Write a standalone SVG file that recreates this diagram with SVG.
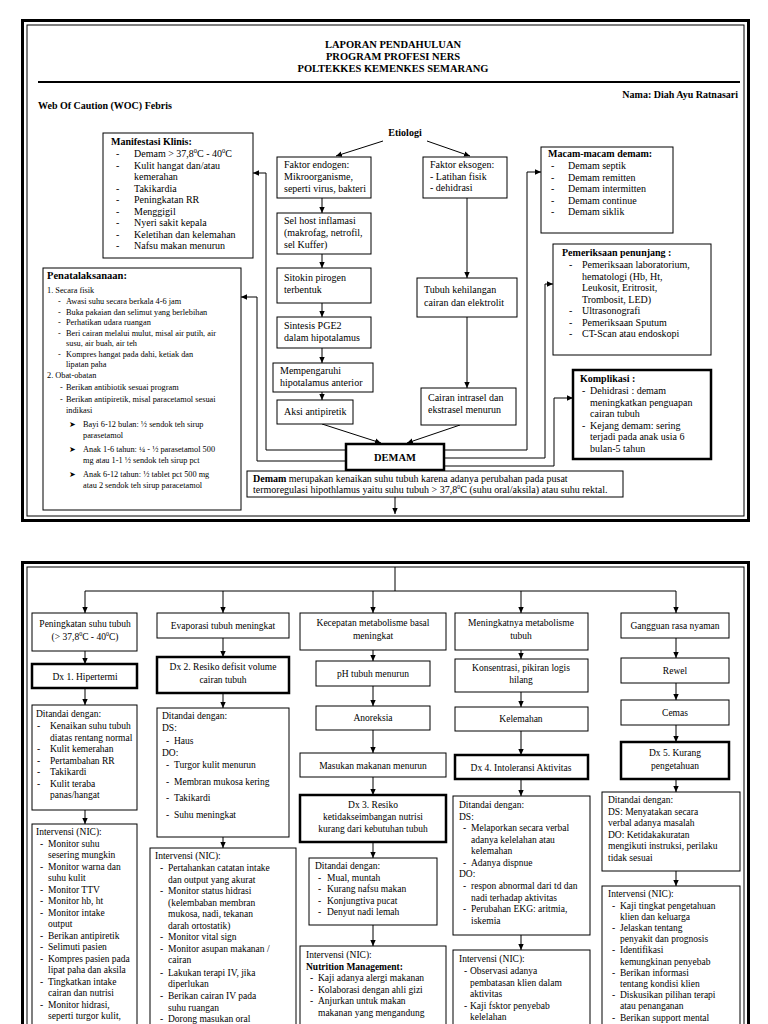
<svg xmlns="http://www.w3.org/2000/svg" width="768" height="1024" viewBox="0 0 768 1024">
<defs>
<marker id="ar" viewBox="0 0 10 10" refX="10" refY="5" markerWidth="6" markerHeight="6" orient="auto" markerUnits="userSpaceOnUse"><path d="M0,0.5 L10,5 L0,9.5 z" fill="#000"/></marker>
<style>
text{font-family:"Liberation Serif","Times New Roman",serif;font-size:10px;fill:#000}
.b{font-weight:bold}
.c{text-anchor:middle}
.e{text-anchor:end}
.s{font-size:8.3px}
.m{font-size:9.5px}
.h{font-size:10.5px;font-weight:bold}
.box{fill:#fff;stroke:#000;stroke-width:1}
.tk{stroke-width:2.5}
.fr{fill:none;stroke:#000;stroke-width:3}
.fi{fill:none;stroke:#000;stroke-width:1}
.cn{fill:none;stroke:#000;stroke-width:1}
.ar{marker-end:url(#ar)}
.sym{font-family:"DejaVu Sans",sans-serif;font-size:8px}
</style>
</defs>
<rect width="768" height="1024" fill="#fff"/>

<!-- Frames -->
<rect class="fr" x="22.5" y="20.5" width="726" height="500"/>
<rect class="fi" x="27" y="25" width="717" height="491"/>
<rect class="fr" x="22.5" y="562.5" width="726" height="480"/>
<rect class="fi" x="27" y="567" width="717" height="470"/>

<!-- Header -->
<g id="header">
<text class="h c" x="393" y="48">LAPORAN PENDAHULUAN</text>
<text class="h c" x="393" y="60">PROGRAM PROFESI NERS</text>
<text class="h c" x="393" y="72">POLTEKKES KEMENKES SEMARANG</text>
<line x1="38" y1="82" x2="740" y2="82" stroke="#000" stroke-width="2"/>
<text class="b e" x="738" y="98">Nama: Diah Ayu Ratnasari</text>
<text class="b" x="38" y="109">Web Of Caution (WOC) Febris</text>
</g>

<!-- Connectors -->
<g id="connectors">
<line class="cn ar" x1="383" y1="141" x2="336" y2="156"/>
<line class="cn ar" x1="427" y1="141" x2="470" y2="156"/>
<line class="cn ar" x1="322" y1="198" x2="322" y2="213"/>
<line class="cn ar" x1="322" y1="254" x2="322" y2="268"/>
<line class="cn ar" x1="322" y1="303" x2="322" y2="317"/>
<line class="cn ar" x1="322" y1="348" x2="322" y2="363"/>
<line class="cn ar" x1="322" y1="392" x2="322" y2="400"/>
<line class="cn ar" x1="467" y1="198" x2="467" y2="278"/>
<line class="cn ar" x1="467" y1="317" x2="467" y2="388"/>
<line class="cn ar" x1="322" y1="424" x2="381" y2="443"/>
<line class="cn ar" x1="460" y1="425" x2="407" y2="443"/>
<polyline class="cn ar" points="346,450 266,450 266,173 253,173"/>
<polyline class="cn ar" points="346,461 257,461 257,297 241,297"/>
<polyline class="cn ar" points="444,450 527,450 527,172 541,172"/>
<polyline class="cn ar" points="444,458 545,458 545,284 553,284"/>
<polyline class="cn ar" points="444,466 554,466 554,398 573,398"/>
<line class="cn ar" x1="395" y1="497" x2="395" y2="514"/>
<!-- bottom distribution -->
<line class="cn" x1="395" y1="567" x2="395" y2="591"/>
<line class="cn" x1="85" y1="591" x2="676" y2="591"/>
<line class="cn ar" x1="85" y1="591" x2="85" y2="613"/>
<line class="cn ar" x1="223" y1="591" x2="223" y2="613"/>
<line class="cn ar" x1="373" y1="591" x2="373" y2="613"/>
<line class="cn ar" x1="521" y1="591" x2="521" y2="613"/>
<line class="cn ar" x1="676" y1="591" x2="676" y2="613"/>
<!-- col1 -->
<line class="cn ar" x1="85" y1="651" x2="85" y2="664"/>
<line class="cn ar" x1="85" y1="688" x2="85" y2="705"/>
<line class="cn ar" x1="85" y1="810" x2="85" y2="824"/>
<!-- col2 -->
<line class="cn ar" x1="223" y1="638" x2="223" y2="657"/>
<line class="cn ar" x1="223" y1="693" x2="223" y2="708"/>
<line class="cn ar" x1="223" y1="837" x2="223" y2="848"/>
<!-- col3 -->
<line class="cn ar" x1="373" y1="650" x2="373" y2="661"/>
<line class="cn ar" x1="373" y1="686" x2="373" y2="706"/>
<line class="cn ar" x1="373" y1="730" x2="373" y2="753"/>
<line class="cn ar" x1="373" y1="777" x2="373" y2="795"/>
<line class="cn ar" x1="373" y1="842" x2="373" y2="858"/>
<line class="cn ar" x1="373" y1="925" x2="373" y2="946"/>
<!-- col4 -->
<line class="cn ar" x1="521" y1="650" x2="521" y2="659"/>
<line class="cn ar" x1="521" y1="692" x2="521" y2="707"/>
<line class="cn ar" x1="521" y1="731" x2="521" y2="755"/>
<line class="cn ar" x1="521" y1="779" x2="521" y2="796"/>
<line class="cn ar" x1="521" y1="935" x2="521" y2="950"/>
<!-- col5 -->
<line class="cn ar" x1="676" y1="638" x2="676" y2="658"/>
<line class="cn ar" x1="676" y1="683" x2="676" y2="700"/>
<line class="cn ar" x1="676" y1="725" x2="676" y2="742"/>
<line class="cn ar" x1="676" y1="779" x2="676" y2="792"/>
<line class="cn ar" x1="676" y1="871" x2="676" y2="886"/>
</g>

<!-- TOP PANEL NODES -->
<g id="etiologi"><text class="b c" x="405" y="136">Etiologi</text></g>

<g id="manifestasi">
<rect class="box" x="103" y="133" width="150" height="125" stroke-width="2"/>
<text class="b" x="111" y="145">Manifestasi Klinis:</text>
<text x="116" y="157">-</text><text x="134" y="157">Demam &gt; 37,8<tspan dy="-4" font-size="6.5">0</tspan><tspan dy="4">C - 40</tspan><tspan dy="-4" font-size="6.5">0</tspan><tspan dy="4">C</tspan></text>
<text x="116" y="168.5">-</text><text x="134" y="168.5">Kulit hangat dan/atau</text>
<text x="134" y="180">kemerahan</text>
<text x="116" y="191.5">-</text><text x="134" y="191.5">Takikardia</text>
<text x="116" y="203">-</text><text x="134" y="203">Peningkatan RR</text>
<text x="116" y="214.5">-</text><text x="134" y="214.5">Menggigil</text>
<text x="116" y="226">-</text><text x="134" y="226">Nyeri sakit kepala</text>
<text x="116" y="237.5">-</text><text x="134" y="237.5">Keletihan dan kelemahan</text>
<text x="116" y="249">-</text><text x="134" y="249">Nafsu makan menurun</text>
</g>

<g id="endogen">
<rect class="box" x="277" y="157" width="94" height="41"/>
<text x="284" y="168">Faktor endogen:</text>
<text x="284" y="180">Mikroorganisme,</text>
<text x="284" y="192">seperti virus, bakteri</text>
</g>
<g id="eksogen">
<rect class="box" x="423" y="157" width="84" height="41"/>
<text x="430" y="168">Faktor eksogen:</text>
<text x="430" y="179.5">- Latihan fisik</text>
<text x="430" y="191">- dehidrasi</text>
</g>
<g id="selhost">
<rect class="box" x="277" y="213" width="94" height="41"/>
<text x="284" y="224">Sel host inflamasi</text>
<text x="284" y="236">(makrofag, netrofil,</text>
<text x="284" y="248">sel Kuffer)</text>
</g>
<g id="sitokin">
<rect class="box" x="277" y="268" width="94" height="35"/>
<text x="284" y="281">Sitokin pirogen</text>
<text x="284" y="293">terbentuk</text>
</g>
<g id="sintesis">
<rect class="box" x="277" y="317" width="94" height="31"/>
<text x="284" y="329">Sintesis PGE2</text>
<text x="284" y="341">dalam hipotalamus</text>
</g>
<g id="mempengaruhi">
<rect class="box" x="273" y="363" width="100" height="29"/>
<text x="280" y="374">Mempengaruhi</text>
<text x="280" y="386">hipotalamus anterior</text>
</g>
<g id="aksi">
<rect class="box" x="277" y="400" width="76" height="24"/>
<text x="284" y="415">Aksi antipiretik</text>
</g>
<g id="kehilangan">
<rect class="box" x="417" y="278" width="100" height="39"/>
<text x="424" y="293">Tubuh kehilangan</text>
<text x="424" y="306">cairan dan  elektrolit</text>
</g>
<g id="intrasel">
<rect class="box" x="421" y="388" width="95" height="37"/>
<text x="428" y="401">Cairan intrasel dan</text>
<text x="428" y="413">ekstrasel menurun</text>
</g>
<g id="demam">
<rect class="box tk" x="346" y="444" width="98" height="26"/>
<text class="h c" x="395" y="461">DEMAM</text>
</g>
<g id="definisi">
<rect class="box" x="247" y="471" width="376" height="26"/>
<text x="253" y="482" font-size="9.3"><tspan font-weight="bold">Demam</tspan> merupakan kenaikan suhu tubuh karena adanya perubahan pada pusat</text>
<text x="253" y="493" font-size="9.3">termoregulasi hipothlamus yaitu suhu tubuh &gt; 37,8<tspan dy="-4" font-size="6">0</tspan><tspan dy="4">C (suhu oral/aksila) atau suhu rektal.</tspan></text>
</g>

<g id="macam">
<rect class="box" x="541" y="147" width="132" height="86" stroke-width="2"/>
<text class="b" x="548" y="157">Macam-macam demam:</text>
<text x="551" y="169">-</text><text x="568" y="169">Demam septik</text>
<text x="551" y="180.5">-</text><text x="568" y="180.5">Demam remitten</text>
<text x="551" y="192">-</text><text x="568" y="192">Demam intermitten</text>
<text x="551" y="203.5">-</text><text x="568" y="203.5">Demam continue</text>
<text x="551" y="215">-</text><text x="568" y="215">Demam siklik</text>
</g>
<g id="pemeriksaan">
<rect class="box" x="553" y="244" width="158" height="111" stroke-width="2"/>
<text class="b" x="562" y="256">Pemeriksaan penunjang :</text>
<text x="569" y="268">-</text><text x="582" y="268">Pemeriksaan laboratorium,</text>
<text x="582" y="279.5">hematologi (Hb, Ht,</text>
<text x="582" y="291">Leukosit, Eritrosit,</text>
<text x="582" y="302.5">Trombosit, LED)</text>
<text x="569" y="314">-</text><text x="582" y="314">Ultrasonografi</text>
<text x="569" y="325.5">-</text><text x="582" y="325.5">Pemeriksaan Sputum</text>
<text x="569" y="337">-</text><text x="582" y="337">CT-Scan atau endoskopi</text>
</g>
<g id="komplikasi">
<rect class="box tk" x="573" y="370" width="138" height="89"/>
<text class="b" x="580" y="382">Komplikasi :</text>
<text x="582" y="394">-</text><text x="590" y="394">Dehidrasi : demam</text>
<text x="590" y="405.5">meningkatkan penguapan</text>
<text x="590" y="417">cairan tubuh</text>
<text x="582" y="428.5">-</text><text x="590" y="428.5">Kejang demam: sering</text>
<text x="590" y="440">terjadi pada anak usia 6</text>
<text x="590" y="451.5">bulan-5 tahun</text>
</g>
<g id="penatalaksanaan">
<rect class="box" x="43" y="268" width="198" height="242" stroke-width="2"/>
<text class="h" x="47" y="279">Penatalaksanaan:</text>
<text class="s" x="47" y="293">1. Secara fisik</text>
<text class="s" x="58" y="304">-</text><text class="s" x="66" y="304">Awasi suhu secara berkala 4-6 jam</text>
<text class="s" x="58" y="314.5">-</text><text class="s" x="66" y="314.5">Buka pakaian dan selimut yang berlebihan</text>
<text class="s" x="58" y="325">-</text><text class="s" x="66" y="325">Perhatikan udara ruangan</text>
<text class="s" x="58" y="335.5">-</text><text class="s" x="66" y="335.5">Beri cairan melalui mulut, misal air putih, air</text>
<text class="s" x="66" y="346">susu, air buah, air teh</text>
<text class="s" x="58" y="356.5">-</text><text class="s" x="66" y="356.5">Kompres hangat pada dahi, ketiak dan</text>
<text class="s" x="66" y="367">lipatan paha</text>
<text class="s" x="47" y="378">2. Obat-obatan</text>
<text class="s" x="60" y="390">-</text><text class="s" x="66" y="390">Berikan antibiotik sesuai program</text>
<text class="s" x="60" y="402">-</text><text class="s" x="66" y="402">Berikan antipiretik, misal paracetamol sesuai</text>
<text class="s" x="66" y="413">indikasi</text>
<text class="sym" x="69" y="427">➤</text><text class="s" x="83" y="427">Bayi 6-12 bulan: ½ sendok teh sirup</text>
<text class="s" x="83" y="438">parasetamol</text>
<text class="sym" x="69" y="452">➤</text><text class="s" x="83" y="452">Anak 1-6 tahun: ¼ - ½ parasetamol 500</text>
<text class="s" x="83" y="463">mg atau 1-1 ½ sendok teh sirup pct</text>
<text class="sym" x="69" y="477">➤</text><text class="s" x="83" y="477">Anak 6-12 tahun: ½ tablet pct 500 mg</text>
<text class="s" x="83" y="488">atau 2 sendok teh sirup paracetamol</text>
</g>

<!-- BOTTOM PANEL NODES -->
<g id="peningkatan">
<rect class="box" x="32" y="613" width="105" height="38"/>
<text class="m c" x="85" y="627">Peningkatan suhu tubuh</text>
<text class="m c" x="85" y="640">(&gt; 37,8<tspan dy="-4" font-size="6">0</tspan><tspan dy="4">C - 40</tspan><tspan dy="-4" font-size="6">0</tspan><tspan dy="4">C)</tspan></text>
</g>
<g id="dx1">
<rect class="box tk" x="32" y="664" width="105" height="24"/>
<text class="m c" x="85" y="680">Dx 1. Hipertermi</text>
</g>
<g id="ditandai1">
<rect class="box" x="32" y="705" width="105" height="105"/>
<text class="m" x="36" y="717">Ditandai dengan:</text>
<text class="m" x="37" y="729">-</text><text class="m" x="50" y="729">Kenaikan suhu tubuh</text>
<text class="m" x="50" y="740.5">diatas rentang normal</text>
<text class="m" x="37" y="752">-</text><text class="m" x="50" y="752">Kulit kemerahan</text>
<text class="m" x="37" y="763.5">-</text><text class="m" x="50" y="763.5">Pertambahan RR</text>
<text class="m" x="37" y="775">-</text><text class="m" x="50" y="775">Takikardi</text>
<text class="m" x="37" y="786.5">-</text><text class="m" x="50" y="786.5">Kulit teraba</text>
<text class="m" x="50" y="798">panas/hangat</text>
</g>
<g id="intervensi1">
<rect class="box" x="32" y="824" width="105" height="215"/>
<text class="m" x="36" y="835">Intervensi (NIC):</text>
<text class="m" x="40" y="846.5">-</text><text class="m" x="48" y="846.5">Monitor suhu</text>
<text class="m" x="48" y="858">sesering mungkin</text>
<text class="m" x="40" y="869.5">-</text><text class="m" x="48" y="869.5">Monitor warna dan</text>
<text class="m" x="48" y="881">suhu kulit</text>
<text class="m" x="40" y="892.5">-</text><text class="m" x="48" y="892.5">Monitor TTV</text>
<text class="m" x="40" y="904">-</text><text class="m" x="48" y="904">Monitor hb, ht</text>
<text class="m" x="40" y="915.5">-</text><text class="m" x="48" y="915.5">Monitor intake</text>
<text class="m" x="48" y="927">output</text>
<text class="m" x="40" y="938.5">-</text><text class="m" x="48" y="938.5">Berikan antipiretik</text>
<text class="m" x="40" y="950">-</text><text class="m" x="48" y="950">Selimuti pasien</text>
<text class="m" x="40" y="961.5">-</text><text class="m" x="48" y="961.5">Kompres pasien pada</text>
<text class="m" x="48" y="973">lipat paha dan aksila</text>
<text class="m" x="40" y="984.5">-</text><text class="m" x="48" y="984.5">Tingkatkan intake</text>
<text class="m" x="48" y="996">cairan dan nutrisi</text>
<text class="m" x="40" y="1007.5">-</text><text class="m" x="48" y="1007.5">Monitor hidrasi,</text>
<text class="m" x="48" y="1019">seperti turgor kulit,</text>
</g>

<g id="evaporasi">
<rect class="box" x="157" y="613" width="132" height="25"/>
<text class="m c" x="223" y="629">Evaporasi tubuh meningkat</text>
</g>
<g id="dx2">
<rect class="box tk" x="157" y="657" width="132" height="36"/>
<text class="m c" x="223" y="670">Dx 2. Resiko defisit volume</text>
<text class="m c" x="223" y="683">cairan tubuh</text>
</g>
<g id="ditandai2">
<rect class="box" x="157" y="708" width="132" height="129"/>
<text class="m" x="162" y="719">Ditandai dengan:</text>
<text class="m" x="162" y="731">DS:</text>
<text class="m" x="166" y="744">-</text><text class="m" x="174" y="744">Haus</text>
<text class="m" x="162" y="755.5">DO:</text>
<text class="m" x="166" y="768">-</text><text class="m" x="174" y="768">Turgor kulit menurun</text>
<text class="m" x="166" y="784.5">-</text><text class="m" x="174" y="784.5">Membran mukosa kering</text>
<text class="m" x="166" y="801">-</text><text class="m" x="174" y="801">Takikardi</text>
<text class="m" x="166" y="817.5">-</text><text class="m" x="174" y="817.5">Suhu meningkat</text>
</g>
<g id="intervensi2">
<rect class="box" x="150" y="848" width="146" height="190"/>
<text class="m" x="155" y="859">Intervensi (NIC):</text>
<text class="m" x="160" y="871">-</text><text class="m" x="168" y="871">Pertahankan catatan intake</text>
<text class="m" x="168" y="882.5">dan output yang akurat</text>
<text class="m" x="160" y="894">-</text><text class="m" x="168" y="894">Monitor status hidrasi</text>
<text class="m" x="168" y="905.5">(kelembaban membran</text>
<text class="m" x="168" y="917">mukosa, nadi, tekanan</text>
<text class="m" x="168" y="928.5">darah ortostatik)</text>
<text class="m" x="160" y="940">-</text><text class="m" x="168" y="940">Monitor vital sign</text>
<text class="m" x="160" y="951.5">-</text><text class="m" x="168" y="951.5">Monitor asupan makanan /</text>
<text class="m" x="168" y="963">cairan</text>
<text class="m" x="160" y="975.5">-</text><text class="m" x="168" y="975.5">Lakukan terapi IV, jika</text>
<text class="m" x="168" y="987">diperlukan</text>
<text class="m" x="160" y="999">-</text><text class="m" x="168" y="999">Berikan cairan IV pada</text>
<text class="m" x="168" y="1010.5">suhu ruangan</text>
<text class="m" x="160" y="1021.5">-</text><text class="m" x="168" y="1021.5">Dorong masukan oral</text>
</g>

<g id="kecepatan">
<rect class="box" x="300" y="613" width="146" height="37"/>
<text class="m c" x="373" y="626">Kecepatan metabolisme basal</text>
<text class="m c" x="373" y="639">meningkat</text>
</g>
<g id="ph">
<rect class="box" x="316" y="661" width="114" height="25"/>
<text class="m c" x="373" y="677">pH tubuh menurun</text>
</g>
<g id="anoreksia">
<rect class="box" x="316" y="706" width="114" height="24"/>
<text class="m c" x="373" y="721">Anoreksia</text>
</g>
<g id="masukan">
<rect class="box" x="300" y="753" width="146" height="24"/>
<text class="m c" x="373" y="769">Masukan makanan menurun</text>
</g>
<g id="dx3">
<rect class="box tk" x="300" y="795" width="146" height="47"/>
<text class="m c" x="373" y="808">Dx 3. Resiko</text>
<text class="m c" x="373" y="820">ketidakseimbangan nutrisi</text>
<text class="m c" x="373" y="832">kurang dari kebutuhan tubuh</text>
</g>
<g id="ditandai3">
<rect class="box" x="309" y="858" width="128" height="67"/>
<text class="m" x="315" y="869">Ditandai dengan:</text>
<text class="m" x="318" y="880.5">-</text><text class="m" x="327" y="880.5">Mual, muntah</text>
<text class="m" x="318" y="892">-</text><text class="m" x="327" y="892">Kurang nafsu makan</text>
<text class="m" x="318" y="903.5">-</text><text class="m" x="327" y="903.5">Konjungtiva pucat</text>
<text class="m" x="318" y="915">-</text><text class="m" x="327" y="915">Denyut nadi lemah</text>
</g>
<g id="intervensi3">
<rect class="box" x="300" y="946" width="146" height="92"/>
<text class="m" x="306" y="958">Intervensi (NIC):</text>
<text class="m b" x="306" y="969.5">Nutrition Management:</text>
<text class="m" x="310" y="981">-</text><text class="m" x="318" y="981">Kaji adanya alergi makanan</text>
<text class="m" x="310" y="992.5">-</text><text class="m" x="318" y="992.5">Kolaborasi dengan ahli gizi</text>
<text class="m" x="310" y="1004">-</text><text class="m" x="318" y="1004">Anjurkan untuk makan</text>
<text class="m" x="318" y="1015.5">makanan yang mengandung</text>
</g>

<g id="meningkatnya">
<rect class="box" x="455" y="613" width="133" height="37"/>
<text class="m c" x="521" y="626">Meningkatnya metabolisme</text>
<text class="m c" x="521" y="639">tubuh</text>
</g>
<g id="konsentrasi">
<rect class="box" x="455" y="659" width="133" height="33"/>
<text class="m c" x="521" y="671">Konsentrasi, pikiran logis</text>
<text class="m c" x="521" y="683">hilang</text>
</g>
<g id="kelemahan">
<rect class="box" x="455" y="707" width="133" height="24"/>
<text class="m c" x="521" y="722">Kelemahan</text>
</g>
<g id="dx4">
<rect class="box tk" x="455" y="755" width="133" height="24"/>
<text class="m c" x="521" y="771">Dx 4. Intoleransi Aktivitas</text>
</g>
<g id="ditandai4">
<rect class="box" x="453" y="796" width="137" height="139"/>
<text class="m" x="459" y="808">Ditandai dengan:</text>
<text class="m" x="459" y="819.5">DS:</text>
<text class="m" x="463" y="831">-</text><text class="m" x="471" y="831">Melaporkan secara verbal</text>
<text class="m" x="471" y="842.5">adanya kelelahan atau</text>
<text class="m" x="471" y="854">kelemahan</text>
<text class="m" x="463" y="865.5">-</text><text class="m" x="471" y="865.5">Adanya dispnue</text>
<text class="m" x="459" y="877">DO:</text>
<text class="m" x="463" y="889">-</text><text class="m" x="471" y="889">respon abnormal dari td dan</text>
<text class="m" x="471" y="900.5">nadi terhadap aktivitas</text>
<text class="m" x="463" y="912">-</text><text class="m" x="471" y="912">Perubahan EKG: aritmia,</text>
<text class="m" x="471" y="923.5">iskemia</text>
</g>
<g id="intervensi4">
<rect class="box" x="453" y="950" width="137" height="90"/>
<text class="m" x="459" y="962">Intervensi (NIC):</text>
<text class="m" x="464" y="974">-</text><text class="m" x="470" y="974">Observasi adanya</text>
<text class="m" x="470" y="985.5">pembatasan klien dalam</text>
<text class="m" x="470" y="997">aktivitas</text>
<text class="m" x="464" y="1008.5">-</text><text class="m" x="470" y="1008.5">Kaji fsktor penyebab</text>
<text class="m" x="470" y="1020">kelelahan</text>
</g>

<g id="gangguan">
<rect class="box" x="621" y="613" width="108" height="25"/>
<text class="m c" x="675" y="629">Gangguan rasa nyaman</text>
</g>
<g id="rewel">
<rect class="box" x="621" y="658" width="108" height="25"/>
<text class="m c" x="675" y="674">Rewel</text>
</g>
<g id="cemas">
<rect class="box" x="621" y="700" width="108" height="25"/>
<text class="m c" x="675" y="716">Cemas</text>
</g>
<g id="dx5">
<rect class="box tk" x="621" y="742" width="108" height="37"/>
<text class="m c" x="675" y="756">Dx 5. Kurang</text>
<text class="m c" x="675" y="769">pengetahuan</text>
</g>
<g id="ditandai5">
<rect class="box" x="602" y="792" width="138" height="79"/>
<text class="m" x="608" y="803">Ditandai dengan:</text>
<text class="m" x="608" y="814.5">DS: Menyatakan secara</text>
<text class="m" x="608" y="826">verbal adanya masalah</text>
<text class="m" x="608" y="837.5">DO: Ketidakakuratan</text>
<text class="m" x="608" y="849">mengikuti instruksi, perilaku</text>
<text class="m" x="608" y="860.5">tidak sesuai</text>
</g>
<g id="intervensi5">
<rect class="box" x="602" y="886" width="138" height="153"/>
<text class="m" x="608" y="897">Intervensi (NIC):</text>
<text class="m" x="612" y="908.5">-</text><text class="m" x="620" y="908.5">Kaji tingkat pengetahuan</text>
<text class="m" x="620" y="919.7">klien dan keluarga</text>
<text class="m" x="612" y="930.9">-</text><text class="m" x="620" y="930.9">Jelaskan tentang</text>
<text class="m" x="620" y="942.1">penyakit dan prognosis</text>
<text class="m" x="612" y="953.3">-</text><text class="m" x="620" y="953.3">Identifikasi</text>
<text class="m" x="620" y="964.5">kemungkinan penyebab</text>
<text class="m" x="612" y="975.7">-</text><text class="m" x="620" y="975.7">Berikan informasi</text>
<text class="m" x="620" y="986.9">tentang kondisi klien</text>
<text class="m" x="612" y="998.1">-</text><text class="m" x="620" y="998.1">Diskusikan pilihan terapi</text>
<text class="m" x="620" y="1009.3">atau penanganan</text>
<text class="m" x="612" y="1020.5">-</text><text class="m" x="620" y="1020.5">Berikan support mental</text>
</g>
</svg>
